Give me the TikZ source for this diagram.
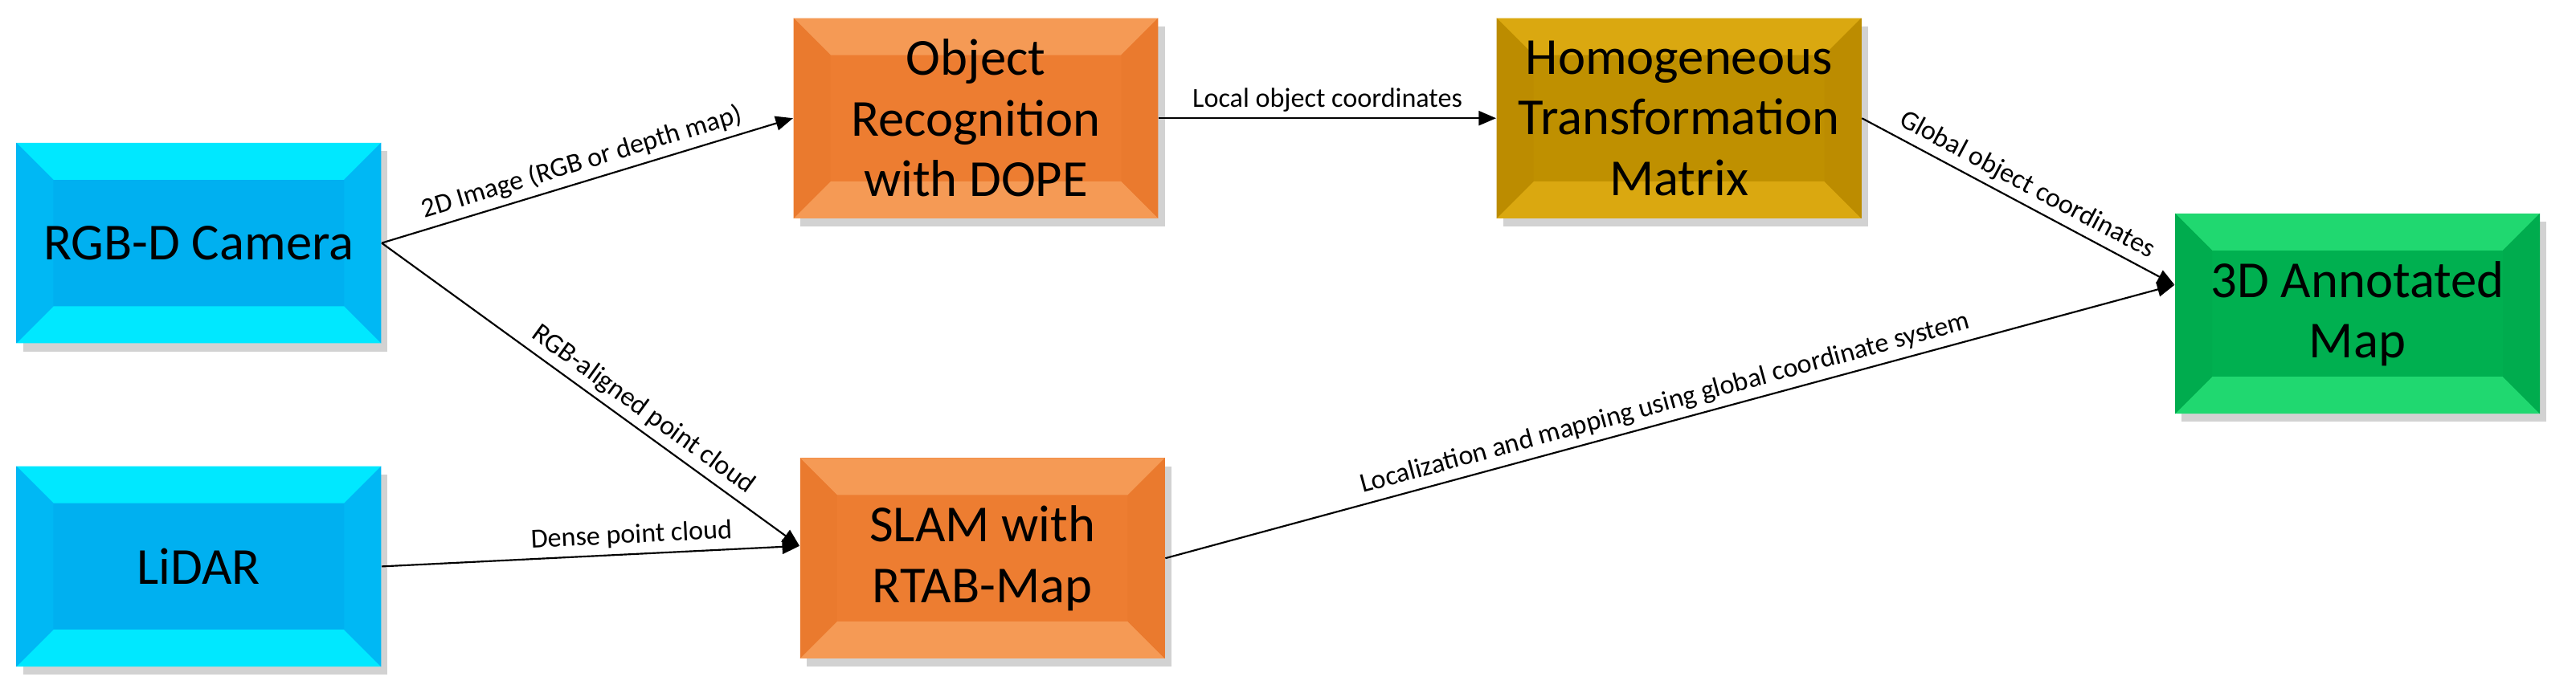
\documentclass[tikz,border=0pt]{standalone}
\usepackage{fontspec}
\setmainfont{Carlito}
\usetikzlibrary{shadows,arrows.meta}
\definecolor{cyanB}{HTML}{00B0F0}\definecolor{cyanL}{HTML}{00E8FF}\definecolor{cyanD}{HTML}{00B8F4}
\definecolor{orB}{HTML}{ED7D31}\definecolor{orL}{HTML}{F59A55}\definecolor{orD}{HTML}{EA7A2E}
\definecolor{goB}{HTML}{BF9000}\definecolor{goL}{HTML}{DAA810}\definecolor{goD}{HTML}{BC8C00}
\definecolor{grB}{HTML}{00B050}\definecolor{grL}{HTML}{20D870}\definecolor{grD}{HTML}{00AC4E}
\tikzset{
 bev/.style n args={3}{fill=#1, minimum width=4.44cm, minimum height=2.44cm, align=center,
   font=\fontsize{18}{21}\selectfont, inner sep=0pt,
   drop shadow={shadow xshift=0.08cm, shadow yshift=-0.1cm, fill=black!35, opacity=0.5},
   path picture={
     \def\b{0.45}
     \path (path picture bounding box.north west) coordinate (nw) (path picture bounding box.south east) coordinate (se);
     \fill[#2] (nw) -- (nw-|se) -- ([xshift=-\b cm,yshift=-\b cm]nw-|se) -- ([xshift=\b cm,yshift=-\b cm]nw) -- cycle;
     \fill[#2] (nw|-se) -- (se) -- ([xshift=-\b cm,yshift=\b cm]se) -- ([xshift=\b cm,yshift=\b cm]nw|-se) -- cycle;
     \fill[#3] (nw) -- ([xshift=\b cm,yshift=-\b cm]nw) -- ([xshift=\b cm,yshift=\b cm]nw|-se) -- (nw|-se) -- cycle;
     \fill[#3] (nw-|se) -- ([xshift=-\b cm,yshift=-\b cm]nw-|se) -- ([xshift=-\b cm,yshift=\b cm]se) -- (se) -- cycle;
   }},
 conn/.style={draw, line width=0.6pt, -{Triangle[length=6pt,width=5pt]}},
 lbl/.style={font=\fontsize{9.5}{11}\selectfont, sloped, above, inner sep=2pt}
}
\begin{document}
\begin{tikzpicture}[x=0.02cm,y=-0.02cm]
\useasboundingbox (0,0) rectangle (1568,422);
\node[bev={cyanB}{cyanL}{cyanD}] (cam) at (121,148) {RGB-D Camera};
\node[bev={cyanB}{cyanL}{cyanD}] (lid) at (121,345) {LiDAR};
\node[bev={orB}{orL}{orD}] (obj) at (594,72) {Object\\Recognition\\with DOPE};
\node[bev={goB}{goL}{goD}] (hom) at (1022,72) {Homogeneous\\Transformation\\Matrix};
\node[bev={orB}{orL}{orD}] (slam) at (598,340) {SLAM with\\RTAB-Map};
\node[bev={grB}{grL}{grD}] (map) at (1435,191) {3D Annotated\\Map};
\coordinate (camE) at (cam.east);
\coordinate (mapW) at ([yshift=0.35cm]map.west);
\draw[conn] (camE) -- node[lbl,pos=0.5]{2D Image (RGB or depth map)} (obj.west);
\draw[conn] (camE) -- node[lbl,pos=0.6]{RGB-aligned point cloud} ([yshift=0.15cm]slam.west);
\draw[conn] (lid.east) -- node[lbl,pos=0.6]{Dense point cloud} ([yshift=0.15cm]slam.west);
\draw[conn] (obj.east) -- node[lbl]{Local object coordinates} (hom.west);
\draw[conn] (hom.east) -- node[lbl]{Global object coordinates} (mapW);
\draw[conn] (slam.east) -- node[lbl]{Localization and mapping using global coordinate system} (mapW);
\end{tikzpicture}
\end{document}
